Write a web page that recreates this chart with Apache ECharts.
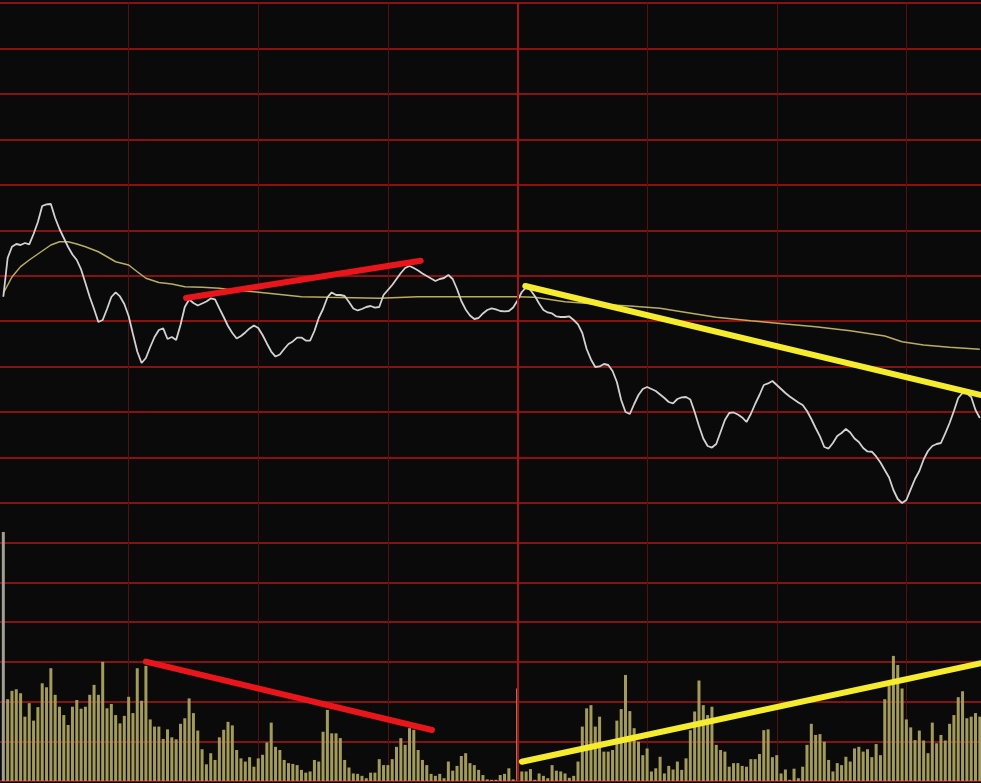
<!DOCTYPE html>
<html>
<head>
<meta charset="utf-8">
<title>分时图</title>
<script src="https://cdn.jsdelivr.net/npm/echarts@6/dist/echarts.min.js"></script>
<style>
  html, body { margin: 0; padding: 0; background: #0b0a0a; }
  #main { width: 981px; height: 783px; }
</style>
</head>
<body>
<div id="main"></div>
<script>
// minute index: 0 = 9:30, 120 = 11:30 / 13:00, 240 = 15:00
var minuteTicks = [0, 30, 60, 90, 120, 150, 180, 210, 240];

// price per minute, starting at minute 1
// prettier-ignore
var price = [
  3372.69, 3376.95, 3378.19, 3378.49, 3378.38, 3378.6, 3378.44, 3379.59, 3380.91, 3382.67,
  3382.84, 3382.89, 3381.35, 3380.14, 3379.15, 3378.16, 3377.34, 3376.73, 3375.69, 3374.2,
  3372.66, 3371.34, 3369.91, 3370.13, 3371.34, 3372.66, 3373.16, 3372.72, 3371.89, 3370.57,
  3368.59, 3366.66, 3365.4, 3365.95, 3367.16, 3368.26, 3369.03, 3369.2, 3368.04, 3368.26,
  3367.93, 3369.58, 3371.56, 3372.39, 3372.0, 3371.73, 3371.95, 3372.17, 3372.5, 3372.39,
  3371.4, 3370.46, 3369.47, 3368.7, 3368.1, 3368.37, 3368.76, 3369.2, 3369.53, 3369.25,
  3368.48, 3367.55, 3366.66, 3366.11, 3366.33, 3366.94, 3367.49, 3367.77, 3368.2, 3368.2,
  3367.87, 3367.87, 3368.92, 3370.35, 3371.34, 3372.61, 3373.16, 3372.88, 3372.88, 3372.77,
  3372.11, 3371.4, 3371.18, 3371.34, 3371.56, 3371.67, 3371.5, 3371.56, 3372.88, 3373.43,
  3373.98, 3374.64, 3375.3, 3375.85, 3376.07, 3375.85, 3375.58, 3375.25, 3374.97, 3374.7,
  3374.42, 3374.64, 3374.75, 3375.08, 3374.64, 3373.54, 3372.22, 3371.29, 3370.63, 3370.24,
  3370.35, 3370.85, 3371.23, 3371.4, 3371.29, 3371.12, 3371.07, 3371.12, 3371.5, 3372.28,
  3373.21, 3373.71, 3373.43, 3372.77, 3371.95, 3371.23, 3370.96, 3370.85, 3370.52, 3370.46,
  3370.46, 3370.52, 3370.13, 3369.64, 3368.7, 3366.94, 3365.79, 3364.96, 3365.02, 3365.29,
  3365.18, 3364.52, 3363.31, 3361.33, 3360.01, 3359.79, 3360.89, 3361.88, 3362.54, 3362.76,
  3362.54, 3362.32, 3361.94, 3361.55, 3361.11, 3360.95, 3361.44, 3361.61, 3361.66, 3361.39,
  3360.01, 3358.47, 3357.1, 3356.27, 3356.1, 3356.49, 3357.81, 3359.13, 3359.9, 3359.96,
  3359.74, 3359.41, 3358.91, 3359.79, 3360.89, 3361.88, 3362.98, 3363.15, 3363.42, 3362.98,
  3362.54, 3362.1, 3361.72, 3361.39, 3361.06, 3360.78, 3360.12, 3359.24, 3358.25, 3357.32,
  3356.16, 3355.99, 3356.6, 3357.37, 3357.7, 3358.14, 3357.76, 3357.1, 3356.71, 3356.05,
  3355.67, 3355.64, 3355.12, 3354.46, 3353.63, 3352.81, 3351.43, 3350.44, 3350.0, 3350.33,
  3351.49, 3352.64, 3353.52, 3354.79, 3355.72, 3356.27, 3356.49, 3356.6, 3357.65, 3358.8,
  3360.12, 3361.55, 3362.1, 3362.05, 3361.66, 3360.23, 3359.35
];

// average price line, read as [minute, value]
// prettier-ignore
var avgPrice = [
  [1, 3373.07], [3, 3374.86], [5, 3376.0], [7, 3376.73], [10, 3377.72], [12, 3378.38],
  [14, 3378.74], [16, 3378.74], [18, 3378.49], [20, 3378.19], [23, 3377.64], [25, 3377.09],
  [27, 3376.54], [30, 3376.18], [32, 3375.44], [34, 3374.72], [37, 3374.26], [40, 3374.09],
  [43, 3373.79], [47, 3373.73], [51, 3373.62], [54, 3373.43], [59, 3373.24], [64, 3372.99],
  [70, 3372.69], [76, 3372.63], [88, 3372.52], [97, 3372.69], [107, 3372.69], [120, 3372.69],
  [124, 3372.63], [131, 3372.14], [138, 3371.89], [146, 3371.67], [153, 3371.42], [158, 3371.04],
  [166, 3370.43], [174, 3370.05], [182, 3369.69], [189, 3369.39], [197, 3368.95], [205, 3368.37],
  [209, 3367.74], [214, 3367.38], [220, 3367.13], [227, 3366.91]
];

// volume per minute (万手), starting at minute 1
// prettier-ignore
var volume = [
  62.7, 20.6, 22.7, 23.1, 22.1, 16.2, 19.6, 15.2, 18.6, 24.6,
  23.6, 28.4, 21.7, 18.7, 16.6, 14.1, 18.7, 20.4, 18.2, 18.7,
  21.7, 24.2, 21.7, 30.0, 18.3, 19.4, 16.6, 14.5, 16.4, 21.2,
  17.1, 28.4, 20.2, 29.0, 15.5, 13.7, 13.7, 10.6, 13.0, 11.0,
  10.5, 14.4, 15.8, 20.8, 17.1, 12.7, 8.0, 4.2, 7.0, 5.3,
  11.0, 12.9, 14.9, 14.0, 7.8, 5.7, 4.9, 6.0, 3.6, 5.7,
  6.6, 9.7, 14.7, 8.6, 7.8, 5.3, 4.5, 4.3, 4.0, 2.8,
  2.1, 2.4, 5.3, 4.9, 12.4, 17.9, 12.0, 12.0, 10.8, 5.3,
  3.4, 1.9, 1.8, 1.3, 0.7, 2.1, 2.1, 5.5, 4.0, 4.0,
  5.5, 8.6, 10.8, 9.1, 13.3, 12.9, 7.8, 5.3, 4.0, 1.8,
  1.3, 1.8, 0.7, 4.9, 2.6, 3.8, 6.3, 7.0, 4.5, 4.0,
  2.8, 1.5, 0.4, 0.3, 0.3, 1.5, 1.8, 3.2, 0.4, 23.3,
  2.4, 2.4, 3.0, 0.3, 1.9, 1.3, 0.7, 4.0, 2.6, 2.4,
  1.9, 0.8, 1.3, 4.9, 13.7, 18.3, 19.1, 13.7, 16.2, 7.4,
  7.4, 7.8, 15.2, 18.1, 26.7, 17.6, 13.3, 9.9, 6.5, 8.2,
  2.4, 3.2, 6.1, 1.9, 3.8, 2.9, 4.9, 2.8, 5.7, 12.8,
  17.5, 25.3, 19.1, 16.6, 18.7, 9.1, 7.8, 7.4, 3.6, 4.5,
  4.5, 3.8, 3.6, 5.5, 5.5, 6.8, 12.8, 13.0, 6.0, 6.5,
  1.9, 2.9, 0.3, 3.1, 0.7, 3.6, 9.1, 14.4, 11.6, 11.8,
  9.9, 5.3, 2.4, 4.5, 4.0, 6.1, 4.9, 8.2, 8.6, 7.4,
  8.0, 6.0, 9.3, 6.5, 20.6, 23.9, 31.5, 29.2, 23.3, 15.5,
  13.5, 10.3, 12.7, 10.2, 7.0, 14.7, 9.5, 11.6, 10.2, 14.4,
  16.6, 21.1, 22.6, 15.8, 16.2, 17.1, 16.2
];

// hand-drawn trend lines, [minute, value] end points
var priceUpTrend = [[43.3, 3372.55], [97.6, 3376.65]];
var priceDownTrend = [[121.8, 3373.87], [227.3, 3361.88]];
var volDownTrend = [[34.0, 30.05], [100.2, 12.85]];
var volUpTrend = [[121.0, 4.86], [227.3, 29.65]];

var chartDom = document.getElementById("main");
var myChart = echarts.init(chartDom);
var option;

var priceData = price.map(function(p, i) {
  return [i + 1, p];
});
var volumeData = volume.map(function(v, i) {
  return [i + 1, v];
});

function trendSeries(data, color, xi, yi) {
  return {
    type: "line",
    xAxisIndex: xi,
    yAxisIndex: yi,
    data: data,
    symbol: "none",
    silent: true,
    z: 10,
    lineStyle: { color: color, width: 6, cap: "round" }
  };
}

// bright line at the noon break, one per grid
function noonLine(xi, yi) {
  return {
    type: "line",
    xAxisIndex: xi,
    yAxisIndex: yi,
    data: [],
    z: 1,
    markLine: {
      silent: true,
      symbol: "none",
      label: { show: false },
      lineStyle: { color: "#a01515", width: 2, type: "solid" },
      data: [{ xAxis: 120 }]
    }
  };
}

var hLine = "#8a1111";
var vLine = "#561010";

option = {
  backgroundColor: "#0b0a0a",
  animation: false,
  grid: [
    { left: -1, right: -55, top: 3, height: 500, outerBoundsMode: "none" },
    { left: -1, right: -55, top: 503, height: 278, outerBoundsMode: "none" }
  ],
  xAxis: [0, 1].map(function(i) {
    return {
      type: "value",
      gridIndex: i,
      min: minuteTicks[0],
      max: minuteTicks[minuteTicks.length - 1],
      interval: 30,
      axisLine: { show: false },
      axisTick: { show: false },
      axisLabel: { show: false },
      splitLine: { show: true, lineStyle: { color: vLine, width: 1 } }
    };
  }),
  yAxis: [
    {
      type: "value",
      gridIndex: 0,
      min: 3350,
      max: 3405,
      interval: 5,
      axisLine: { show: false },
      axisTick: { show: false },
      axisLabel: { show: false },
      splitLine: { lineStyle: { color: hLine, width: 2 } }
    },
    {
      type: "value",
      gridIndex: 1,
      min: 0,
      max: 70,
      interval: 10,
      axisLine: { show: false },
      axisTick: { show: false },
      axisLabel: { show: false },
      splitLine: { lineStyle: { color: hLine, width: 2 } }
    }
  ],
  series: [
    noonLine(0, 0),
    noonLine(1, 1),
    {
      name: "成交量",
      type: "bar",
      xAxisIndex: 1,
      yAxisIndex: 1,
      barWidth: 3,
      z: 3,
      data: volumeData,
      itemStyle: {
        color: function(params) {
          if (params.dataIndex === 0) return "#a09f94";
          if (params.dataIndex === 119) return "#b06e4e";
          return "#a39b5c";
        }
      }
    },
    {
      name: "均价",
      type: "line",
      data: avgPrice,
      symbol: "none",
      z: 3,
      lineStyle: { color: "#b9ad62", width: 1.5 }
    },
    {
      name: "价格",
      type: "line",
      data: priceData,
      symbol: "none",
      z: 4,
      lineStyle: { color: "#d2d2d2", width: 1.8 }
    },
    trendSeries(priceUpTrend, "#e8161a", 0, 0),
    trendSeries(priceDownTrend, "#f4ec2c", 0, 0),
    trendSeries(volDownTrend, "#e8161a", 1, 1),
    trendSeries(volUpTrend, "#f4ec2c", 1, 1)
  ]
};

option && myChart.setOption(option);
</script>
</body>
</html>
